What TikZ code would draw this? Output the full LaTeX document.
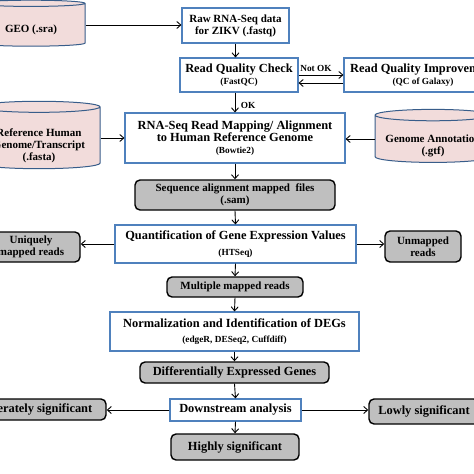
\documentclass[tikz,border=0pt]{standalone}
\usepackage{fontspec}
\setmainfont{Liberation Serif}
\usepackage{tikz}
\usetikzlibrary{positioning}
\usetikzlibrary{shapes.geometric}
\usetikzlibrary{arrows.meta}
\usepackage{xcolor}

\definecolor{boxblue}{HTML}{4F81BD}
\definecolor{cylfill}{HTML}{F2DCDB}
\definecolor{cylline}{HTML}{385D8A}
\definecolor{resgray}{HTML}{BFBFBF}

\newcommand{\bigtxt}{\fontsize{12.4}{14.5}\selectfont\bfseries}
\newcommand{\midtxt}{\fontsize{11}{13}\selectfont\bfseries}
\newcommand{\smalltxt}{\fontsize{9.3}{11}\selectfont\bfseries}
% pushes cylinder text below the top lid
\newcommand{\lidgap}[1]{\rule{0pt}{#1pt}}

\begin{document}
\begin{tikzpicture}[x=1pt,y=-1pt,
  procbox/.style={draw=boxblue, line width=1.1pt, fill=white, align=center, inner sep=0pt},
  resbox/.style={draw=black, line width=1.4pt, fill=resgray, rounded corners=5pt, align=center, inner sep=0pt},
  dbase/.style={cylinder, shape border rotate=90, aspect=0.12, draw=cylline, line width=1pt,
    cylinder uses custom fill, cylinder body fill=cylfill, cylinder end fill=cylfill,
    align=center, inner sep=0pt},
  flow/.style={-{Straight Barb[length=4pt,width=7pt]}, line width=0.9pt}
]
\useasboundingbox (0,0) rectangle (474,474);
\clip (0,0) rectangle (474,474);

% data sources
\node[dbase, minimum width=108, minimum height=46] (geo) at (31,25) {\midtxt\lidgap{17}GEO (.sra)};
\node[dbase, minimum width=122, minimum height=57] (refgen) at (39,138)
  {\midtxt\lidgap{24}Reference Human\\\midtxt Genome/Transcript\\\midtxt (.fasta)};
\node[dbase, minimum width=116, minimum height=52] (annot) at (433,139)
  {\midtxt\lidgap{21}Genome Annotation\\\midtxt (.gtf)};

% main pipeline
\node[procbox, minimum width=107, minimum height=35] (raw) at (235.5,25.5)
  {\midtxt Raw RNA-Seq data\\\midtxt for ZIKV (.fastq)};
\node[procbox, minimum width=118, minimum height=34] (qcheck) at (239,75)
  {\bigtxt Read Quality Check\\\smalltxt (FastQC)};
\node[procbox, minimum width=158, minimum height=34] (qimprove) at (423,75)
  {\bigtxt Read Quality Improvement\\\smalltxt (QC of Galaxy)};
\node[procbox, minimum width=220, minimum height=50] (mapping) at (235,138)
  {\bigtxt RNA-Seq Read Mapping/ Alignment\\\bigtxt to Human Reference Genome\\\smalltxt (Bowtie2)};
\node[resbox, minimum width=200, minimum height=30] (samfile) at (235,195)
  {\midtxt Sequence alignment mapped~ files\\\midtxt (.sam)};
\node[procbox, minimum width=241, minimum height=38] (quant) at (235.5,244)
  {\bigtxt Quantification of Gene Expression Values\\[4pt]\smalltxt (HTSeq)};
\node[resbox, minimum width=98, minimum height=30] (unique) at (31,247)
  {\midtxt Uniquely\\\midtxt mapped reads};
\node[resbox, minimum width=76, minimum height=31] (unmapped) at (423,246.5)
  {\midtxt Unmapped\\\midtxt reads};
\node[resbox, minimum width=136, minimum height=20] (multi) at (235,287)
  {\midtxt Multiple mapped reads};
\node[procbox, minimum width=249, minimum height=39] (norm) at (234.5,331.5)
  {\bigtxt Normalization and Identification of DEGs\\[3pt]\smalltxt (edgeR, DESeq2, Cuffdiff)};
\node[resbox, minimum width=189, minimum height=21] (deg) at (234.5,372.5)
  {\bigtxt Differentially Expressed Genes};
\node[procbox, minimum width=131, minimum height=22] (down) at (235.5,410)
  {\bigtxt Downstream analysis};
\node[resbox, minimum width=147, minimum height=21] (moder) at (32.5,409.5)
  {\bigtxt Moderately significant};
\node[resbox, minimum width=110, minimum height=25] (lowly) at (424,411.5)
  {\bigtxt Lowly significant};
\node[resbox, minimum width=128, minimum height=26] (highly) at (235,447)
  {\bigtxt Highly significant};

% connectors
\draw[flow] (geo.east) -- (geo.east -| raw.west);
\draw[flow] (raw.south) -- (raw.south |- qcheck.north);
\draw[flow] (qcheck.east) -- (qcheck.east -| qimprove.west);
\draw[flow] ([yshift=-8pt]qcheck.east -| qimprove.west) -- ([yshift=-8pt]qcheck.east);
\draw[flow] (mapping.north |- qcheck.south) -- (mapping.north);
\draw[flow] (refgen.east) -- (refgen.east -| mapping.west);
\draw[flow] (annot.west) -- (annot.west -| mapping.east);
\draw[flow] (mapping.south) -- (samfile.north);
\draw[flow] (samfile.south) -- (quant.north);
\draw[flow] (quant.west) -- (quant.west -| unique.east);
\draw[flow] (quant.east) -- (quant.east -| unmapped.west);
\draw[flow] (quant.south) -- (multi.north);
\draw[flow] (multi.south) -- (norm.north);
\draw[flow] (norm.south) -- (deg.north);
\draw[flow] (deg.south) -- (down.north);
\draw[flow] (down.west) -- (down.west -| moder.east);
\draw[flow] (down.east) -- (down.east -| lowly.west);
\draw[flow] (down.south) -- (highly.north);

\node (notok) at (316,68) {\smalltxt Not OK};
\node (okay) at (248,105) {\smalltxt OK};

\end{tikzpicture}
\end{document}
